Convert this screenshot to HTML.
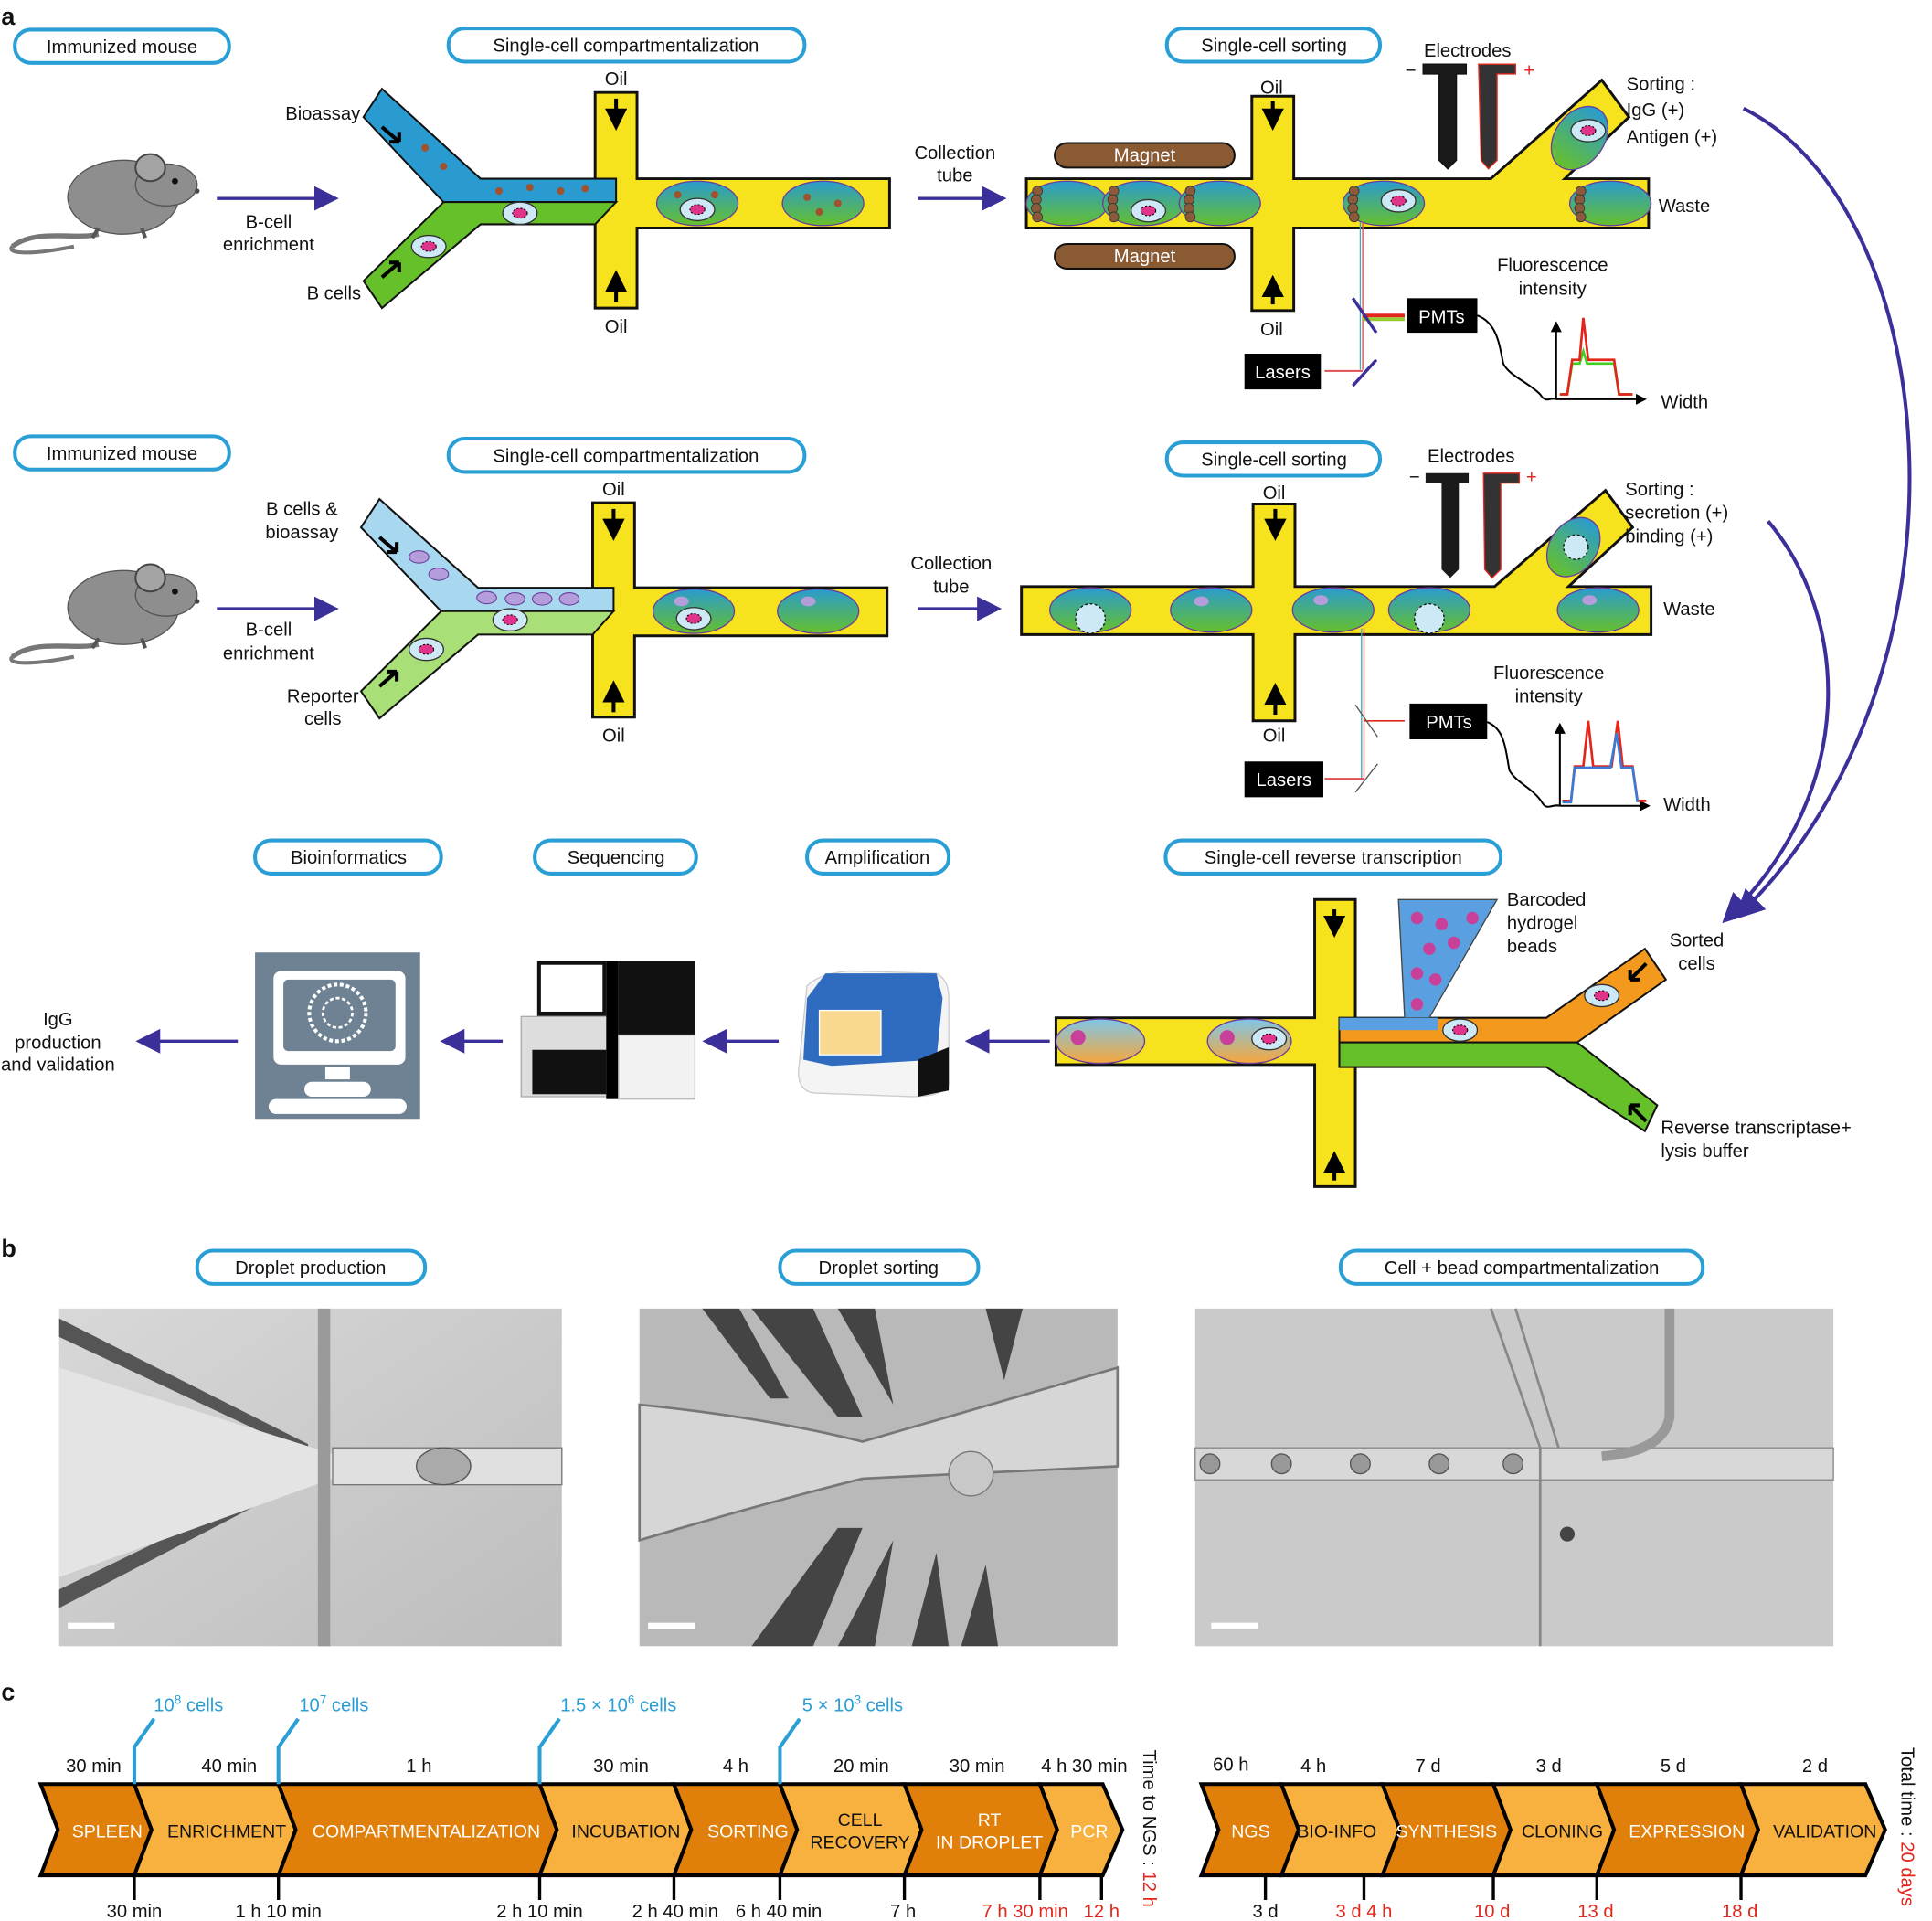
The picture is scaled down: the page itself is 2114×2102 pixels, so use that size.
<!DOCTYPE html>
<html><head><meta charset="utf-8"><style>
html,body{margin:0;padding:0;background:#fff}
svg{display:block}
text{font-family:"Liberation Sans",sans-serif;font-size:15px;fill:#111}
.pl{fill:#fff;stroke:#2a9fd6;stroke-width:3}
.ch{fill:#f7e21e;stroke:#111;stroke-width:2.2}
.w{fill:#fff}
.b{fill:#2a9fd6}
.r{fill:#e3261b}
.seg text{font-size:14.5px}
</style></head><body>
<svg width="2114" height="2102" viewBox="0 0 1568 1559" xmlns="http://www.w3.org/2000/svg">
<defs>
<linearGradient id="dg" x1="0" y1="0" x2="0" y2="1"><stop offset="0" stop-color="#2a9bd0"/><stop offset="1" stop-color="#66c02a"/></linearGradient>
<linearGradient id="dg2" x1="0" y1="0" x2="0" y2="1"><stop offset="0" stop-color="#7fc6e8"/><stop offset="1" stop-color="#f7a63a"/></linearGradient>
<linearGradient id="mg" x1="0" y1="0" x2="1" y2="1"><stop offset="0" stop-color="#d8d8d8"/><stop offset="1" stop-color="#bdbdbd"/></linearGradient>
<marker id="ar" markerWidth="8" markerHeight="8" refX="6" refY="4" orient="auto" markerUnits="strokeWidth"><path d="M0,0 L8,4 L0,8 z" fill="#3b2f9a"/></marker>
<marker id="ak" markerWidth="6" markerHeight="6" refX="5" refY="3" orient="auto" markerUnits="strokeWidth"><path d="M0,0 L6,3 L0,6 z" fill="#000"/></marker>
<g id="drop"><ellipse cx="0" cy="0" rx="33" ry="18" fill="url(#dg)" stroke="#6a3d9a" stroke-width="1"/></g>
<g id="cell"><ellipse cx="0" cy="0" rx="14" ry="9" fill="#cde9f6" stroke="#333" stroke-width="1"/><ellipse cx="0" cy="0" rx="6" ry="4" fill="#e0338a" stroke="#000" stroke-dasharray="1.5 1.5" stroke-width="0.8"/></g>
<g id="beads"><circle cx="-24" cy="-10" r="4" fill="#8a5a3a" stroke="#333" stroke-width="0.6"/><circle cx="-25" cy="-3" r="4" fill="#8a5a3a" stroke="#333" stroke-width="0.6"/><circle cx="-25" cy="4" r="4" fill="#8a5a3a" stroke="#333" stroke-width="0.6"/><circle cx="-24" cy="11" r="4" fill="#8a5a3a" stroke="#333" stroke-width="0.6"/></g>
<g id="mouse">
<path d="M10,200 C30,185 60,195 80,190" stroke="#777" stroke-width="4" fill="none"/>
<path d="M10,200 C5,205 20,208 60,200" stroke="#777" stroke-width="3" fill="none"/>
<ellipse cx="100" cy="160" rx="45" ry="30" fill="#8e8e8e" stroke="#555"/>
<ellipse cx="135" cy="150" rx="25" ry="17" fill="#8e8e8e" stroke="#555"/>
<ellipse cx="122" cy="136" rx="12" ry="11" fill="#a4a4a4" stroke="#444" stroke-width="1.5"/>
<circle cx="142" cy="147" r="2.5" fill="#111"/>
<circle cx="160" cy="155" r="2" fill="#444"/>
<path d="M80,185 l-5,8 M115,185 l3,8" stroke="#555" stroke-width="3"/>
</g>
</defs>

<text x="1" y="20" style="font-weight:bold;font-size:20px">a</text>

<!-- ROW 1 -->
<rect class="pl" x="12" y="24" width="174" height="27" rx="13"/><text x="99" y="43" text-anchor="middle">Immunized mouse</text>
<rect class="pl" x="364" y="23" width="289" height="27" rx="13"/><text x="508" y="42" text-anchor="middle">Single-cell compartmentalization</text>
<rect class="pl" x="947" y="23" width="173" height="27" rx="13"/><text x="1034" y="42" text-anchor="middle">Single-cell sorting</text>
<use href="#mouse"/>
<line x1="176" y1="161" x2="270" y2="161" stroke="#3b2f9a" stroke-width="2.5" marker-end="url(#ar)"/>
<text x="262" y="97" text-anchor="middle">Bioassay</text>
<text x="218" y="185" text-anchor="middle">B-cell</text><text x="218" y="203" text-anchor="middle">enrichment</text>
<text x="271" y="243" text-anchor="middle">B cells</text>
<path d="M483,145 L483,75 L517,75 L517,145 L722,145 L722,185 L517,185 L517,250 L483,250 L483,185 Z" class="ch"/>
<path d="M295,95 L310,72 L390,145 L500,145 L500,164 L360,164 Z" fill="#2a9bd0" stroke="#111" stroke-width="1.5"/>
<path d="M295,228 L310,250 L390,182 L483,182 L500,164 L360,164 Z" fill="#66c02a" stroke="#111" stroke-width="1.5"/>
<g fill="#a0522d"><circle cx="345" cy="120" r="3"/><circle cx="360" cy="135" r="3"/><circle cx="405" cy="155" r="3"/><circle cx="430" cy="152" r="3"/><circle cx="455" cy="155" r="3"/><circle cx="475" cy="153" r="3"/></g>
<use href="#cell" x="422" y="173"/>
<use href="#cell" x="348" y="200"/>
<path d="M310,103 l14,12 M324,115 l-8,0 M324,115 l0,-8" stroke="#000" stroke-width="3"/>
<path d="M310,225 l14,-12 M324,213 l-8,0 M324,213 l0,8" stroke="#000" stroke-width="3"/>
<text x="500" y="69" text-anchor="middle">Oil</text><text x="500" y="270" text-anchor="middle">Oil</text>
<line x1="500" y1="80" x2="500" y2="103" stroke="#000" stroke-width="3" marker-end="url(#ak)"/>
<line x1="500" y1="245" x2="500" y2="222" stroke="#000" stroke-width="3" marker-end="url(#ak)"/>
<use href="#drop" x="566" y="165"/><use href="#cell" x="566" y="170"/>
<use href="#drop" x="668" y="165"/>
<g fill="#a0522d"><circle cx="550" cy="158" r="3"/><circle cx="580" cy="158" r="3"/><circle cx="655" cy="160" r="3"/><circle cx="680" cy="165" r="3"/><circle cx="665" cy="172" r="3"/></g>
<text x="775" y="129" text-anchor="middle">Collection</text><text x="775" y="147" text-anchor="middle">tube</text>
<line x1="745" y1="161" x2="812" y2="161" stroke="#3b2f9a" stroke-width="2.5" marker-end="url(#ar)"/>
<path d="M833,145 L1016,145 L1016,78 L1050,78 L1050,145 L1210,145 L1300,65 L1322,95 L1270,145 L1338,145 L1338,185 L1050,185 L1050,252 L1016,252 L1016,185 L833,185 Z" class="ch"/>
<rect x="856" y="116" width="146" height="20" rx="10" fill="#8a5a32" stroke="#111" stroke-width="1.5"/><text x="929" y="131" text-anchor="middle" class="w">Magnet</text>
<rect x="856" y="198" width="146" height="20" rx="10" fill="#8a5a32" stroke="#111" stroke-width="1.5"/><text x="929" y="213" text-anchor="middle" class="w">Magnet</text>
<text x="1032" y="76" text-anchor="middle">Oil</text><text x="1032" y="272" text-anchor="middle">Oil</text>
<line x1="1033" y1="82" x2="1033" y2="103" stroke="#000" stroke-width="3" marker-end="url(#ak)"/>
<line x1="1033" y1="247" x2="1033" y2="226" stroke="#000" stroke-width="3" marker-end="url(#ak)"/>
<g><use href="#drop" x="866" y="165"/><use href="#beads" x="866" y="165"/>
<use href="#drop" x="928" y="165"/><use href="#beads" x="928" y="165"/><use href="#cell" x="932" y="171"/>
<use href="#drop" x="990" y="165"/><use href="#beads" x="990" y="165"/>
<use href="#drop" x="1123" y="165"/><use href="#beads" x="1123" y="165"/><use href="#cell" x="1135" y="163"/>
<use href="#drop" x="1307" y="165"/><use href="#beads" x="1307" y="165"/></g>
<ellipse cx="1282" cy="112" rx="20" ry="28" transform="rotate(35 1282 112)" fill="url(#dg)" stroke="#6a3d9a"/><use href="#cell" x="1289" y="106"/>
<path d="M1155,52 L1190,52 L1190,60 L1182,60 L1182,130 L1175,137 L1168,130 L1168,60 L1155,60 Z" fill="#1a1a1a" stroke="#111"/>
<path d="M1200,52 L1230,52 L1230,60 L1215,60 L1215,130 L1208,137 L1202,130 Z" fill="#333" stroke="#e3261b" stroke-width="1"/>
<text x="1191" y="46" text-anchor="middle">Electrodes</text><text x="1145" y="62" text-anchor="middle">−</text><text x="1241" y="62" text-anchor="middle" class="r">+</text>
<text x="1320" y="73">Sorting :</text><text x="1320" y="94">IgG (+)</text><text x="1320" y="116">Antigen (+)</text>
<text x="1346" y="172">Waste</text>
<text x="1260" y="220" text-anchor="middle">Fluorescence</text><text x="1260" y="239" text-anchor="middle">intensity</text>
<path d="M1106,180 L1106,300" stroke="#e05050" stroke-width="1"/><path d="M1104,180 L1104,300" stroke="#4ab" stroke-width="1"/>
<path d="M1106,256 L1140,256" stroke="#e3261b" stroke-width="3"/><path d="M1106,259 L1140,259" stroke="#9c3" stroke-width="3"/>
<path d="M1075,301 L1106,301" stroke="#e05050" stroke-width="1.5"/>
<line x1="1098" y1="242" x2="1117" y2="270" stroke="#3b2f9a" stroke-width="2.5"/>
<line x1="1098" y1="313" x2="1117" y2="292" stroke="#3b2f9a" stroke-width="2.5"/>
<rect x="1142" y="242" width="57" height="28" fill="#000"/><text x="1170" y="262" text-anchor="middle" class="w">PMTs</text>
<rect x="1010" y="287" width="62" height="29" fill="#000"/><text x="1041" y="307" text-anchor="middle" class="w">Lasers</text>
<path d="M1199,256 C1215,262 1217,280 1220,295 C1225,305 1240,310 1250,320 C1255,328 1258,322 1263,324" stroke="#000" stroke-width="1.5" fill="none"/>
<line x1="1263" y1="324" x2="1263" y2="262" stroke="#000" stroke-width="1.5" marker-end="url(#ak)"/>
<line x1="1263" y1="324" x2="1335" y2="324" stroke="#000" stroke-width="1.5" marker-end="url(#ak)"/>
<path d="M1266,320 L1272,320 L1276,295 L1282,295 L1285,285 L1288,295 L1310,295 L1314,320 L1325,320" stroke="#4c2" stroke-width="2" fill="none"/>
<path d="M1266,320 L1272,320 L1276,292 L1282,292 L1285,258 L1289,292 L1310,292 L1314,320 L1325,320" stroke="#e3261b" stroke-width="2" fill="none"/>
<text x="1348" y="331">Width</text>
<path d="M1415,88 C1580,170 1610,550 1412,742" stroke="#3b2f9a" stroke-width="3" fill="none" marker-end="url(#ar)"/>

<!-- ROW 2 -->
<rect class="pl" x="12" y="354" width="174" height="27" rx="13"/><text x="99" y="373" text-anchor="middle">Immunized mouse</text>
<rect class="pl" x="364" y="356" width="289" height="27" rx="13"/><text x="508" y="375" text-anchor="middle">Single-cell compartmentalization</text>
<rect class="pl" x="947" y="359" width="173" height="27" rx="13"/><text x="1034" y="378" text-anchor="middle">Single-cell sorting</text>
<use href="#mouse" y="333"/>
<line x1="176" y1="494" x2="270" y2="494" stroke="#3b2f9a" stroke-width="2.5" marker-end="url(#ar)"/>
<text x="245" y="418" text-anchor="middle">B cells &amp;</text><text x="245" y="437" text-anchor="middle">bioassay</text>
<text x="218" y="516" text-anchor="middle">B-cell</text><text x="218" y="535" text-anchor="middle">enrichment</text>
<text x="262" y="570" text-anchor="middle">Reporter</text><text x="262" y="588" text-anchor="middle">cells</text>
<path d="M481,477 L481,408 L515,408 L515,477 L720,477 L720,516 L515,516 L515,582 L481,582 L481,516 Z" class="ch"/>
<path d="M293,428 L308,405 L388,477 L498,477 L498,496 L358,496 Z" fill="#a8d8ef" stroke="#111" stroke-width="1.5"/>
<path d="M293,561 L308,583 L388,515 L481,515 L498,496 L358,496 Z" fill="#a8df76" stroke="#111" stroke-width="1.5"/>
<g fill="#b39ddb" stroke="#6a3d9a" stroke-width="0.8"><ellipse cx="340" cy="452" rx="8" ry="5"/><ellipse cx="356" cy="466" rx="8" ry="5"/><ellipse cx="395" cy="485" rx="8" ry="5"/><ellipse cx="418" cy="486" rx="8" ry="5"/><ellipse cx="440" cy="486" rx="8" ry="5"/><ellipse cx="462" cy="486" rx="8" ry="5"/></g>
<use href="#cell" x="414" y="503"/><use href="#cell" x="346" y="527"/>
<path d="M308,436 l14,12 M322,448 l-8,0 M322,448 l0,-8" stroke="#000" stroke-width="3"/>
<path d="M308,557 l14,-12 M322,545 l-8,0 M322,545 l0,8" stroke="#000" stroke-width="3"/>
<text x="498" y="402" text-anchor="middle">Oil</text><text x="498" y="602" text-anchor="middle">Oil</text>
<line x1="498" y1="413" x2="498" y2="436" stroke="#000" stroke-width="3" marker-end="url(#ak)"/>
<line x1="498" y1="578" x2="498" y2="555" stroke="#000" stroke-width="3" marker-end="url(#ak)"/>
<use href="#drop" x="563" y="496"/><use href="#cell" x="563" y="502"/><ellipse cx="553" cy="488" rx="6" ry="4" fill="#b39ddb"/>
<use href="#drop" x="664" y="496"/><ellipse cx="656" cy="488" rx="6" ry="4" fill="#b39ddb"/>
<text x="772" y="462" text-anchor="middle">Collection</text><text x="772" y="481" text-anchor="middle">tube</text>
<line x1="745" y1="494" x2="808" y2="494" stroke="#3b2f9a" stroke-width="2.5" marker-end="url(#ar)"/>
<path d="M829,476 L1017,476 L1017,409 L1051,409 L1051,476 L1213,476 L1303,398 L1325,428 L1273,476 L1340,476 L1340,515 L1051,515 L1051,585 L1017,585 L1017,515 L829,515 Z" class="ch"/>
<use href="#drop" x="885" y="495"/><circle cx="885" cy="502" r="12" fill="#cde9f6" stroke="#111" stroke-dasharray="2 2"/>
<use href="#drop" x="983" y="495"/><ellipse cx="975" cy="488" rx="6" ry="4" fill="#b39ddb"/>
<use href="#drop" x="1082" y="495"/><ellipse cx="1072" cy="487" rx="6" ry="4" fill="#b39ddb"/>
<use href="#drop" x="1160" y="495"/><circle cx="1160" cy="502" r="12" fill="#cde9f6" stroke="#111" stroke-dasharray="2 2"/>
<use href="#drop" x="1297" y="495"/><ellipse cx="1290" cy="487" rx="6" ry="4" fill="#b39ddb"/>
<ellipse cx="1277" cy="444" rx="19" ry="26" transform="rotate(35 1277 444)" fill="url(#dg)" stroke="#6a3d9a"/><circle cx="1279" cy="444" r="10" fill="#cde9f6" stroke="#111" stroke-dasharray="2 2"/>
<text x="1034" y="405" text-anchor="middle">Oil</text><text x="1034" y="602" text-anchor="middle">Oil</text>
<line x1="1035" y1="413" x2="1035" y2="436" stroke="#000" stroke-width="3" marker-end="url(#ak)"/>
<line x1="1035" y1="580" x2="1035" y2="557" stroke="#000" stroke-width="3" marker-end="url(#ak)"/>
<path d="M1157,384 L1192,384 L1192,392 L1184,392 L1184,462 L1177,469 L1170,462 L1170,392 L1157,392 Z" fill="#1a1a1a"/>
<path d="M1204,384 L1233,384 L1233,392 L1218,392 L1218,462 L1211,469 L1205,462 Z" fill="#333" stroke="#e3261b"/>
<text x="1194" y="375" text-anchor="middle">Electrodes</text><text x="1148" y="392" text-anchor="middle">−</text><text x="1243" y="392" text-anchor="middle" class="r">+</text>
<text x="1319" y="402">Sorting :</text><text x="1319" y="421">secretion (+)</text><text x="1319" y="440">binding (+)</text>
<text x="1350" y="499">Waste</text>
<text x="1257" y="551" text-anchor="middle">Fluorescence</text><text x="1257" y="570" text-anchor="middle">intensity</text>
<path d="M1107,510 L1107,632" stroke="#e05050" stroke-width="1"/><path d="M1105,510 L1105,632" stroke="#4ab" stroke-width="1"/>
<path d="M1107,585 L1140,585" stroke="#e3261b" stroke-width="1.2"/>
<path d="M1075,632 L1107,632" stroke="#e05050" stroke-width="1.5"/>
<line x1="1100" y1="572" x2="1118" y2="598" stroke="#555" stroke-width="1"/>
<line x1="1100" y1="643" x2="1118" y2="620" stroke="#555" stroke-width="1"/>
<rect x="1144" y="571" width="63" height="29" fill="#000"/><text x="1176" y="591" text-anchor="middle" class="w">PMTs</text>
<rect x="1010" y="618" width="64" height="29" fill="#000"/><text x="1042" y="638" text-anchor="middle" class="w">Lasers</text>
<path d="M1207,586 C1222,592 1222,610 1225,625 C1230,635 1245,640 1252,652 C1256,658 1260,652 1266,654" stroke="#000" stroke-width="1.5" fill="none"/>
<line x1="1266" y1="654" x2="1266" y2="588" stroke="#000" stroke-width="1.5" marker-end="url(#ak)"/>
<line x1="1266" y1="654" x2="1338" y2="654" stroke="#000" stroke-width="1.5" marker-end="url(#ak)"/>
<path d="M1268,650 L1275,650 L1278,622 L1285,622 L1289,585 L1293,622 L1308,622 L1313,585 L1317,622 L1325,622 L1329,650 L1336,650" stroke="#e3261b" stroke-width="2" fill="none"/>
<path d="M1268,651 L1275,651 L1278,623 L1307,623 L1312,595 L1316,623 L1325,623 L1329,651" stroke="#3a7bd5" stroke-width="2" fill="none"/>
<text x="1350" y="658">Width</text>
<path d="M1435,423 C1500,500 1510,640 1402,745" stroke="#3b2f9a" stroke-width="3" fill="none" marker-end="url(#ar)"/>

<!-- ROW 3 -->
<rect class="pl" x="207" y="682" width="151" height="27" rx="13"/><text x="283" y="701" text-anchor="middle">Bioinformatics</text>
<rect class="pl" x="434" y="682" width="131" height="27" rx="13"/><text x="500" y="701" text-anchor="middle">Sequencing</text>
<rect class="pl" x="655" y="682" width="115" height="27" rx="13"/><text x="712" y="701" text-anchor="middle">Amplification</text>
<rect class="pl" x="946" y="682" width="272" height="27" rx="13"/><text x="1082" y="701" text-anchor="middle">Single-cell reverse transcription</text>
<rect x="207" y="773" width="134" height="135" fill="#6e8293"/>
<rect x="222" y="788" width="107" height="76" rx="6" fill="#fff"/><rect x="230" y="795" width="91" height="58" rx="4" fill="#6e8293"/>
<circle cx="274" cy="822" r="23" fill="none" stroke="#fff" stroke-width="3" stroke-dasharray="3 2"/><circle cx="274" cy="822" r="12" fill="none" stroke="#fff" stroke-width="2" stroke-dasharray="3 2"/>
<rect x="264" y="866" width="20" height="10" fill="#fff"/><rect x="247" y="878" width="54" height="12" rx="6" fill="#fff"/><rect x="218" y="892" width="112" height="12" rx="6" fill="#fff"/>
<line x1="193" y1="845" x2="115" y2="845" stroke="#3b2f9a" stroke-width="2.5" marker-end="url(#ar)"/>
<text x="47" y="832" text-anchor="middle">IgG</text><text x="47" y="851" text-anchor="middle">production</text><text x="47" y="869" text-anchor="middle">and validation</text>
<line x1="408" y1="845" x2="362" y2="845" stroke="#3b2f9a" stroke-width="2.5" marker-end="url(#ar)"/>
<rect x="436" y="780" width="56" height="45" fill="#111"/><rect x="439" y="783" width="50" height="38" fill="#fff"/>
<rect x="423" y="825" width="70" height="65" fill="#ddd" stroke="#aaa"/><rect x="432" y="852" width="60" height="36" fill="#111"/>
<rect x="492" y="780" width="10" height="112" fill="#000"/><rect x="502" y="780" width="62" height="60" fill="#111"/><rect x="502" y="840" width="62" height="52" fill="#f2f2f2" stroke="#bbb"/>
<line x1="632" y1="845" x2="575" y2="845" stroke="#3b2f9a" stroke-width="2.5" marker-end="url(#ar)"/>
<path d="M655,800 Q665,790 690,788 L760,790 Q770,795 770,810 L770,880 Q765,890 740,890 L660,887 Q648,885 648,870 Z" fill="#f4f4f4" stroke="#ccc"/>
<path d="M670,790 L760,790 L765,810 L760,860 L675,865 L652,860 L655,810 Z" fill="#2f6cc0"/>
<rect x="665" y="820" width="50" height="36" fill="#f9d890" stroke="#fff"/>
<path d="M745,860 L770,850 L770,885 L745,890 Z" fill="#111"/>
<line x1="852" y1="845" x2="788" y2="845" stroke="#3b2f9a" stroke-width="2.5" marker-end="url(#ar)"/>
<path d="M857,826 L1067,826 L1067,730 L1100,730 L1100,826 L1100,864 L1100,963 L1067,963 L1067,864 L857,864 Z" class="ch"/>
<path d="M1087,826 L1255,826 L1335,770 L1352,795 L1280,846 L1087,846 Z" fill="#f39a1e" stroke="#111" stroke-width="1.5"/>
<path d="M1087,846 L1280,846 L1345,897 L1335,918 L1255,866 L1087,866 Z" fill="#66c02a" stroke="#111" stroke-width="1.5"/>
<path d="M1135,730 L1215,730 L1160,826 L1140,826 Z" fill="#5a9fe0" stroke="#444" stroke-width="1"/>
<g fill="#c8409a"><circle cx="1150" cy="745" r="5"/><circle cx="1170" cy="750" r="5"/><circle cx="1195" cy="745" r="5"/><circle cx="1160" cy="770" r="5"/><circle cx="1180" cy="765" r="5"/><circle cx="1150" cy="790" r="5"/><circle cx="1165" cy="795" r="5"/><circle cx="1150" cy="815" r="5"/></g>
<rect x="1087" y="826" width="80" height="10" fill="#5a9fe0"/>
<use href="#cell" x="1185" y="836"/><use href="#cell" x="1300" y="808"/>
<line x1="1083" y1="738" x2="1083" y2="758" stroke="#000" stroke-width="3" marker-end="url(#ak)"/>
<line x1="1083" y1="958" x2="1083" y2="937" stroke="#000" stroke-width="3" marker-end="url(#ak)"/>
<path d="M1336,782 l-13,13 m0,0 l8,0 m-8,0 l0,-8" stroke="#000" stroke-width="3"/>
<path d="M1336,910 l-13,-13 m0,0 l8,0 m-8,0 l0,8" stroke="#000" stroke-width="3"/>
<ellipse cx="893" cy="845" rx="36" ry="18" fill="url(#dg2)" stroke="#6a3d9a"/><circle cx="875" cy="842" r="6" fill="#c8409a"/>
<ellipse cx="1014" cy="845" rx="34" ry="18" fill="url(#dg2)" stroke="#6a3d9a"/><circle cx="996" cy="842" r="6" fill="#c8409a"/><use href="#cell" x="1030" y="843"/>
<text x="1223" y="735">Barcoded</text><text x="1223" y="754">hydrogel</text><text x="1223" y="773">beads</text>
<text x="1377" y="768" text-anchor="middle">Sorted</text><text x="1377" y="787" text-anchor="middle">cells</text>
<text x="1348" y="920">Reverse transcriptase+</text><text x="1348" y="939">lysis buffer</text>

<!-- SECTION B -->
<text x="1" y="1020" style="font-weight:bold;font-size:20px">b</text>
<rect class="pl" x="160" y="1015" width="185" height="27" rx="13"/><text x="252" y="1034" text-anchor="middle">Droplet production</text>
<rect class="pl" x="633" y="1015" width="161" height="27" rx="13"/><text x="713" y="1034" text-anchor="middle">Droplet sorting</text>
<rect class="pl" x="1088" y="1015" width="294" height="27" rx="13"/><text x="1235" y="1034" text-anchor="middle">Cell + bead compartmentalization</text>
<rect x="48" y="1062" width="408" height="274" fill="url(#mg)"/>
<path d="M48,1085 L250,1180 L250,1172 L48,1070 Z" fill="#555"/><path d="M48,1305 L250,1200 L250,1192 L48,1290 Z" fill="#555"/>
<path d="M48,1110 L270,1180 L270,1200 L48,1280 Z" fill="#e4e4e4"/>
<rect x="270" y="1175" width="186" height="30" fill="#e0e0e0" stroke="#777"/><rect x="258" y="1062" width="10" height="274" fill="#9a9a9a"/>
<ellipse cx="360" cy="1190" rx="22" ry="15" fill="#aaa" stroke="#555"/>
<rect x="55" y="1317" width="38" height="5" fill="#fff"/>
<rect x="519" y="1062" width="388" height="274" fill="#b9b9b9"/>
<path d="M519,1140 Q620,1150 700,1170 L907,1110 L907,1190 L700,1200 Q620,1220 519,1250 Z" fill="#d6d6d6" stroke="#777" stroke-width="2"/>
<g fill="#444"><path d="M610,1062 L660,1062 L700,1150 L680,1150 Z"/><path d="M680,1062 L710,1062 L725,1140 Z"/><path d="M570,1062 L600,1062 L640,1135 L625,1135 Z"/><path d="M610,1336 L660,1336 L700,1240 L680,1240 Z"/><path d="M680,1336 L710,1336 L725,1250 Z"/><path d="M740,1336 L770,1336 L760,1260 Z"/><path d="M800,1062 L830,1062 L815,1120 Z"/><path d="M780,1336 L810,1336 L800,1270 Z"/></g>
<circle cx="788" cy="1196" r="18" fill="#c8c8c8" stroke="#777"/>
<rect x="526" y="1317" width="38" height="5" fill="#fff"/>
<rect x="970" y="1062" width="518" height="274" fill="#cacaca"/>
<rect x="970" y="1175" width="518" height="26" fill="#d8d8d8" stroke="#888"/>
<path d="M1210,1062 L1250,1175 L1250,1336 M1230,1062 L1265,1175" stroke="#888" fill="none" stroke-width="2"/>
<path d="M1355,1062 L1355,1150 Q1350,1178 1300,1182" stroke="#999" fill="none" stroke-width="8"/>
<g fill="#999" stroke="#555"><circle cx="982" cy="1188" r="8"/><circle cx="1040" cy="1188" r="8"/><circle cx="1104" cy="1188" r="8"/><circle cx="1168" cy="1188" r="8"/><circle cx="1228" cy="1188" r="8"/></g>
<circle cx="1272" cy="1245" r="6" fill="#444"/>
<rect x="983" y="1317" width="38" height="5" fill="#fff"/>

<!-- SECTION C -->
<text x="1" y="1380" style="font-weight:bold;font-size:20px">c</text>
<g stroke="#000" stroke-width="3" stroke-linejoin="miter">
<polygon points="33,1448 109,1448 123,1485 109,1522 33,1522 47,1485" fill="#e07f0a"/>
<polygon points="109,1448 226,1448 240,1485 226,1522 109,1522 123,1485" fill="#f8b03e"/>
<polygon points="226,1448 438,1448 452,1485 438,1522 226,1522 240,1485" fill="#e07f0a"/>
<polygon points="438,1448 547,1448 561,1485 547,1522 438,1522 452,1485" fill="#f8b03e"/>
<polygon points="547,1448 633,1448 647,1485 633,1522 547,1522 561,1485" fill="#e07f0a"/>
<polygon points="633,1448 734,1448 748,1485 734,1522 633,1522 647,1485" fill="#f8b03e"/>
<polygon points="734,1448 844,1448 858,1485 844,1522 734,1522 748,1485" fill="#e07f0a"/>
<polygon points="844,1448 895,1448 911,1485 895,1522 844,1522 858,1485" fill="#f8b03e"/>
<polygon points="975,1448 1040,1448 1054,1485 1040,1522 975,1522 989,1485" fill="#e07f0a"/>
<polygon points="1040,1448 1122,1448 1136,1485 1122,1522 1040,1522 1054,1485" fill="#f8b03e"/>
<polygon points="1122,1448 1212,1448 1226,1485 1212,1522 1122,1522 1136,1485" fill="#e07f0a"/>
<polygon points="1212,1448 1296,1448 1310,1485 1296,1522 1212,1522 1226,1485" fill="#f8b03e"/>
<polygon points="1296,1448 1413,1448 1427,1485 1413,1522 1296,1522 1310,1485" fill="#e07f0a"/>
<polygon points="1413,1448 1514,1448 1530,1485 1514,1522 1413,1522 1427,1485" fill="#f8b03e"/>
</g>
<g class="seg" text-anchor="middle">
<text x="87" y="1491" class="w">SPLEEN</text><text x="184" y="1491">ENRICHMENT</text><text x="346" y="1491" class="w">COMPARTMENTALIZATION</text>
<text x="508" y="1491">INCUBATION</text><text x="607" y="1491" class="w">SORTING</text>
<text x="698" y="1482">CELL</text><text x="698" y="1500">RECOVERY</text>
<text x="803" y="1482" class="w">RT</text><text x="803" y="1500" class="w">IN DROPLET</text><text x="884" y="1491" class="w">PCR</text>
<text x="1015" y="1491" class="w">NGS</text><text x="1085" y="1491">BIO-INFO</text><text x="1174" y="1491" class="w">SYNTHESIS</text>
<text x="1268" y="1491">CLONING</text><text x="1369" y="1491" class="w">EXPRESSION</text><text x="1481" y="1491">VALIDATION</text>
</g>
<g stroke="#2a9fd6" stroke-width="3" fill="none">
<path d="M109,1448 L109,1418 L125,1395"/><path d="M226,1448 L226,1418 L242,1395"/><path d="M438,1448 L438,1418 L454,1395"/><path d="M633,1448 L633,1418 L649,1395"/>
</g>
<g text-anchor="middle">
<text x="153" y="1389" class="b">10<tspan dy="-6" font-size="10">8</tspan><tspan dy="6"> cells</tspan></text>
<text x="271" y="1389" class="b">10<tspan dy="-6" font-size="10">7</tspan><tspan dy="6"> cells</tspan></text>
<text x="502" y="1389" class="b">1.5 × 10<tspan dy="-6" font-size="10">6</tspan><tspan dy="6"> cells</tspan></text>
<text x="692" y="1389" class="b">5 × 10<tspan dy="-6" font-size="10">3</tspan><tspan dy="6"> cells</tspan></text>
</g>
<g stroke="#000" stroke-width="2.5">
<path d="M109,1522 v20 M226,1522 v20 M438,1522 v20 M547,1522 v20 M633,1522 v20 M734,1522 v20 M844,1522 v20 M894,1522 v20 M1027,1522 v20 M1107,1522 v20 M1212,1522 v20 M1296,1522 v20 M1413,1522 v20"/>
</g>
<g text-anchor="middle">
<text x="76" y="1438">30 min</text><text x="186" y="1438">40 min</text><text x="340" y="1438">1 h</text><text x="504" y="1438">30 min</text><text x="597" y="1438">4 h</text><text x="699" y="1438">20 min</text><text x="793" y="1438">30 min</text><text x="880" y="1438">4 h 30 min</text>
<text x="999" y="1437">60 h</text><text x="1066" y="1438">4 h</text><text x="1159" y="1438">7 d</text><text x="1257" y="1438">3 d</text><text x="1358" y="1438">5 d</text><text x="1473" y="1438">2 d</text>
<text x="109" y="1556">30 min</text><text x="226" y="1556">1 h 10 min</text><text x="438" y="1556">2 h 10 min</text><text x="548" y="1556">2 h 40 min</text><text x="632" y="1556">6 h 40 min</text><text x="733" y="1556">7 h</text>
<text x="832" y="1556" class="r">7 h 30 min</text><text x="894" y="1556" class="r">12 h</text>
<text x="1027" y="1556">3 d</text><text x="1107" y="1556" class="r">3 d 4 h</text><text x="1211" y="1556" class="r">10 d</text><text x="1295" y="1556" class="r">13 d</text><text x="1412" y="1556" class="r">18 d</text>
</g>
<text transform="translate(928,1420) rotate(90)">Time to NGS : <tspan class="r">12 h</tspan></text>
<text transform="translate(1543,1418) rotate(90)">Total time : <tspan class="r">20 days</tspan></text>
</svg>
</body></html>
